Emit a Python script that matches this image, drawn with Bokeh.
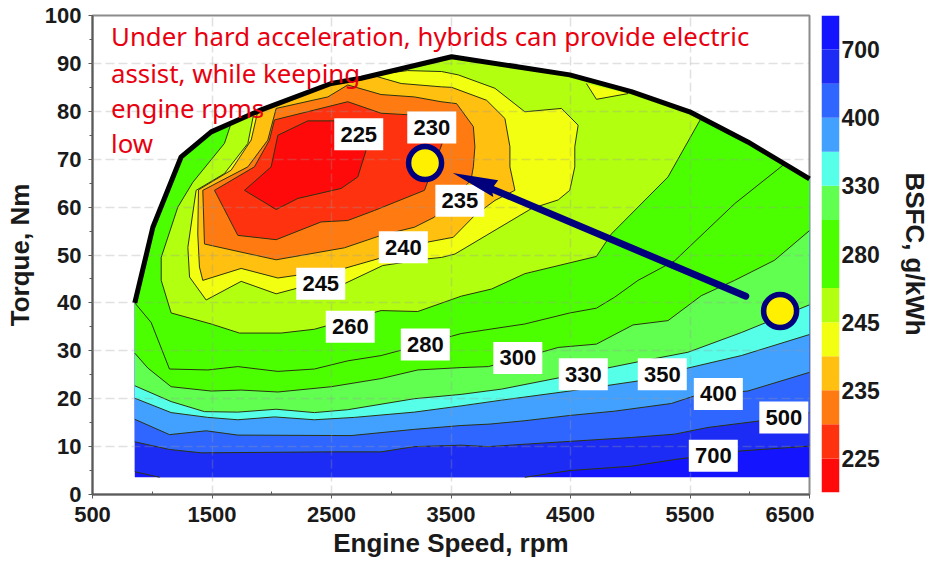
from bokeh.core.properties import value
from bokeh.embed import file_html
from bokeh.layouts import row
from bokeh.models import FixedTicker, Range1d
from bokeh.plotting import figure
from bokeh.resources import INLINE

# full load curve (thick black line)
top_rpm = [854, 1005, 1242, 1493, 1911, 2497, 2748, 3505, 4494, 5009, 5497, 5984, 6500]
top_torque = [40.0, 55.8, 70.5, 75.7, 80.3, 85.8, 86.9, 91.4, 87.6, 84.1, 79.9, 73.6, 65.9]

# contours, each one left to right
base_rpm = [854, 6500]
base_torque = [3.6, 3.6]
left_700_rpm = [854, 1061]
left_700_torque = [4.75, 3.6]
right_700_rpm = [4118, 4494, 5009, 5372, 5929, 6500]
right_700_torque = [3.6, 5.0, 5.9, 7.3, 9.1, 10.1]
rpm_500 = [854, 1144, 1409, 2497, 2915, 3194, 3585, 3812, 4118, 5009, 5372, 5650, 6096, 6500]
torque_500 = [11.0, 9.4, 8.7, 8.9, 8.9, 10.0, 10.3, 10.0, 10.5, 11.9, 12.6, 14.0, 15.4, 17.1]
rpm_400 = [854, 1144, 1451, 1716, 2664, 3194, 3585, 3826, 4118, 4494, 4870, 5344, 5539, 5984, 6500]
torque_400 = [15.7, 12.5, 13.3, 12.4, 12.3, 13.6, 14.4, 14.7, 15.4, 16.5, 17.4, 19.0, 20.6, 21.6, 25.5]
rpm_350 = [854, 1158, 1465, 1716, 2023, 2357, 2692, 3194, 3585, 3923, 4494, 5065, 5483, 5929, 6500]
torque_350 = [20.1, 17.1, 16.1, 15.6, 16.2, 15.6, 16.1, 17.2, 18.5, 19.7, 21.6, 23.7, 26.4, 29.0, 33.4]
rpm_330 = [854, 1158, 1437, 1716, 2037, 2357, 2636, 3194, 3585, 3923, 4411, 5065, 5483, 5929, 6500]
torque_330 = [22.7, 19.4, 17.3, 17.2, 17.8, 17.1, 17.7, 20.0, 20.9, 22.0, 24.4, 27.7, 29.7, 33.8, 39.6]
rpm_300 = [854, 963, 1158, 1493, 1744, 2051, 2497, 2915, 3222, 3585, 3812, 4285, 4397, 4717, 5023,
           5316, 5594, 5873, 6207, 6500]
torque_300 = [29.5, 26.4, 22.5, 21.6, 21.8, 21.4, 22.5, 24.2, 26.0, 26.5, 26.7, 29.9, 30.7, 31.4, 35.4,
              36.3, 41.5, 44.7, 48.9, 55.1]
rpm_280 = [854, 991, 1144, 1465, 1716, 2051, 2357, 2636, 2915, 3124, 3585, 4118, 4494, 4717, 4870,
           5065, 5372, 5873, 6291]
torque_280 = [40.0, 35.9, 26.2, 26.0, 26.7, 25.7, 26.2, 27.9, 29.0, 30.4, 33.6, 35.6, 37.9, 38.9, 41.2,
              44.7, 48.8, 60.7, 69.0]
rpm_260 = [1660, 1604, 1340, 1214, 1075, 1075, 1158, 1493, 1730, 2079, 2357, 2915, 3222, 3585, 3840,
           4118, 4717, 4842, 5316, 5594]
torque_260 = [77.5, 73.3, 65.2, 60.0, 49.5, 44.7, 37.9, 35.6, 33.7, 33.7, 34.5, 38.4, 38.2, 41.4, 42.9,
              46.1, 49.7, 54.4, 66.3, 78.6]
rpm_245 = [1850, 1800, 1604, 1367, 1298, 1312, 1451, 1744, 2037, 2218, 2608, 2929, 3306, 3422, 3533,
           4174, 4397, 4494, 4536, 4536, 4564, 4425, 4118, 3868, 3561, 3422, 3138, 2859]
torque_245 = [79.6, 73.3, 67.0, 63.5, 51.6, 45.4, 40.6, 44.5, 41.9, 43.1, 44.0, 47.8, 49.2, 49.5, 50.2,
              59.7, 61.5, 63.5, 68.4, 72.6, 77.1, 80.6, 79.9, 84.8, 87.6, 88.3, 88.5, 87.6]
rpm_245_patch = [4633, 4717, 4982]
torque_245_patch = [85.8, 82.5, 83.7]
rpm_240 = [1883, 1828, 1660, 1387, 1381, 1395, 1423, 1744, 2051, 2608, 2929, 3306, 3519, 3700, 3868,
           4035, 3993, 3993, 3951, 3798, 3506, 3422, 3083, 2859]
torque_240 = [80.0, 74.0, 67.7, 63.6, 54.4, 47.5, 44.7, 47.2, 45.2, 47.2, 49.5, 52.7, 53.7, 58.3, 61.4,
              63.5, 68.4, 72.6, 78.5, 82.3, 85.0, 85.1, 85.8, 87.4]
rpm_235 = [2037, 2469, 2636, 2915, 3194, 3417, 3547, 3687, 3700, 3687, 3667, 3361, 3194, 2915, 2608,
           2037, 1744, 1437, 1423, 1800, 1967, 2037]
torque_235 = [80.6, 83.0, 85.5, 83.5, 83.0, 82.0, 81.6, 76.8, 72.6, 68.4, 65.6, 57.9, 55.8, 54.1, 51.5,
              49.0, 50.6, 52.3, 63.5, 68.4, 74.0, 80.6]
rpm_230 = [1521, 1716, 2037, 2413, 2636, 2860, 3278, 3426, 3194, 2915, 2636, 2023, 1981, 1855, 1521]
torque_230 = [63.5, 54.1, 53.2, 56.9, 57.2, 59.3, 63.5, 73.3, 79.2, 79.6, 82.0, 78.2, 74.0, 68.4, 63.5]
rpm_225 = [1772, 2037, 2218, 2581, 2720, 2790, 2804, 2636, 2525, 2301, 2051, 1995, 1772]
torque_225 = [63.5, 59.5, 61.8, 63.9, 66.3, 71.9, 75.4, 77.9, 78.0, 78.0, 75.0, 68.4, 63.5]

# contour labels
label_text = ["225", "230", "235", "240", "245", "260", "280", "300", "330", "350", "400", "500", "700"]
label_rpm = [2728, 3339, 3574, 3101, 2410, 2657, 3285, 4059, 4607, 5268, 5737, 6285, 5695]
label_torque = [75.2, 76.6, 61.3, 51.6, 44.0, 35.0, 31.3, 28.5, 25.1, 25.1, 21.0, 16.1, 8.1]

# operating points and the shift between them
point_rpm = [3283, 6254]
point_torque = [69.2, 38.3]
shaft_rpm = [5967, 3840]
shaft_torque = [41.4, 63.8]
head_rpm = [3515, 3895, 3840, 3854]
head_torque = [67.1, 65.6, 63.8, 62.1]

note_lines = ["Under hard acceleration, hybrids can provide electric", "assist, while keeping",
              "engine rpms", "low"]
note_rpm = [655, 655, 655, 655]
note_torque = [95.7, 88.0, 80.7, 73.4]

# colour bar, from the lowest band up
band_colors = ["#ff0a0a", "#ff3210", "#ff7a10", "#ffc010", "#f2ff10", "#b2ff10", "#4cff00", "#4cff00",
               "#60ff50", "#55ffe8", "#42a0ff", "#2f66ff", "#1c2cf4", "#1414ff"]
band_bottom = list(range(14))
band_top = list(range(1, 15))
bar_ticks = {1: "225", 3: "235", 5: "245", 7: "280", 9: "330", 11: "400", 13: "700"}

x_ticks = [500, 1500, 2500, 3500, 4500, 5500, 6500]
x_minor = [1000, 2000, 3000, 4000, 5000, 6000]
y_ticks = [0, 10, 20, 30, 40, 50, 60, 70, 80, 90, 100]
y_minor = [5, 15, 25, 35, 45, 55, 65, 75, 85, 95]

TICK_FONT = "22px"
TITLE_FONT = "26px"
LINE_COLOR = "#2b3312"
NAVY = "#00007d"


def region(rpm, torque):
    # close a contour along the full load curve, from its right end back to its left end
    lo, hi = rpm[0], rpm[-1]
    xs = [r for r in reversed(top_rpm) if lo <= r <= hi]
    ys = [t for r, t in zip(reversed(top_rpm), reversed(top_torque)) if lo <= r <= hi]
    return list(rpm) + xs, list(torque) + ys


p = figure(width=814, height=566, output_backend="svg", toolbar_location=None,
           x_range=Range1d(500, 6500), y_range=Range1d(0, 100),
           min_border_left=92, min_border_right=5, min_border_top=15, min_border_bottom=72)
p.outline_line_color = "#8c8c8c"
p.outline_line_width = 2

# the map, painted from the highest BSFC inwards
xs, ys = region(base_rpm, base_torque)
p.patch(xs, ys, color=band_colors[13], line_color=None)

xs, ys = region(left_700_rpm + right_700_rpm, left_700_torque + right_700_torque)
p.patch(xs, ys, color=band_colors[12], line_color=None)

open_contours = [(rpm_500, torque_500, 11), (rpm_400, torque_400, 10), (rpm_350, torque_350, 9),
                 (rpm_330, torque_330, 8), (rpm_300, torque_300, 7), (rpm_280, torque_280, 6),
                 (rpm_260, torque_260, 5), (rpm_245, torque_245, 4), (rpm_240, torque_240, 3)]
for rpm, torque, band in open_contours:
    xs, ys = region(rpm, torque)
    p.patch(xs, ys, color=band_colors[band], line_color=None)
    p.line(rpm, torque, color=LINE_COLOR, line_width=1)

p.patch(rpm_245_patch, torque_245_patch, color=band_colors[4], line_color=None)
p.line(rpm_245_patch, torque_245_patch, color=LINE_COLOR, line_width=1)

for rpm, torque, band in [(rpm_235, torque_235, 2), (rpm_230, torque_230, 1), (rpm_225, torque_225, 0)]:
    p.patch(rpm, torque, color=band_colors[band], line_color=None)
    p.line(rpm, torque, color=LINE_COLOR, line_width=1)

p.line(left_700_rpm, left_700_torque, color=LINE_COLOR, line_width=1)
p.line(right_700_rpm, right_700_torque, color=LINE_COLOR, line_width=1)

# grid sits faintly on top of the colours
p.grid.level = "guide"
p.grid.grid_line_color = "#9a9a9a"
p.grid.grid_line_alpha = 0.3
p.grid.grid_line_width = 1.5
p.grid.grid_line_dash = [9, 4]

p.line(top_rpm, top_torque, color="black", line_width=5, level="annotation")

p.rect(label_rpm, label_torque, width=49, height=32, width_units="screen", height_units="screen",
       color="white", line_color=None, level="annotation")
p.text(label_rpm, label_torque, text=label_text, text_font=value("Liberation Sans"), text_font_style="bold",
       text_font_size="22px", text_align="center", text_baseline="middle", text_color="#0a0a0a",
       level="annotation")

p.line(shaft_rpm, shaft_torque, color=NAVY, line_width=7, line_cap="round", level="annotation")
p.patch(head_rpm, head_torque, color=NAVY, line_color=None, level="annotation")
p.scatter(point_rpm, point_torque, size=33, fill_color="#fff000", line_color=NAVY, line_width=5.5,
          level="annotation")

p.text(note_rpm, note_torque, text=note_lines, text_font=value("Noto Sans"), text_font_size="25.8px",
       text_color="#e8000f", text_baseline="alphabetic", level="annotation")

p.xaxis.ticker = FixedTicker(ticks=x_ticks, minor_ticks=x_minor)
p.yaxis.ticker = FixedTicker(ticks=y_ticks, minor_ticks=y_minor)
p.axis.axis_line_color = "#5a5a5a"
p.axis.axis_line_width = 2
p.axis.major_tick_line_color = "#5a5a5a"
p.axis.minor_tick_line_color = "#5a5a5a"
p.axis.major_tick_in = 0
p.axis.major_tick_out = 4
p.axis.major_label_text_font = "Liberation Sans"
p.axis.major_label_text_font_style = "bold"
p.axis.major_label_text_font_size = TICK_FONT
p.axis.major_label_text_color = "#1a1a1a"
p.xaxis.minor_tick_in = 3
p.xaxis.minor_tick_out = 0
p.yaxis.minor_tick_in = 0
p.yaxis.minor_tick_out = 3
p.xaxis.major_label_standoff = 8
p.yaxis.major_label_standoff = 7
p.xaxis.axis_label = "Engine Speed, rpm"
p.yaxis.axis_label = "Torque, Nm"
p.axis.axis_label_text_font = "Liberation Sans"
p.axis.axis_label_text_font_style = "bold"
p.axis.axis_label_text_font_size = TITLE_FONT
p.axis.axis_label_text_color = "#1a1a1a"
p.xaxis.axis_label_standoff = 3
p.yaxis.axis_label_standoff = 7

# colour bar; the row lines its bottom border up with the map's, so only the height moves it
bar = figure(width=118, height=564, output_backend="svg", toolbar_location=None,
             x_range=Range1d(0, 1), y_range=Range1d(0, 14),
             x_axis_location=None, y_axis_location="right",
             min_border_left=7, min_border_right=92, min_border_top=15, min_border_bottom=64)
bar.quad(left=0, right=1, bottom=band_bottom, top=band_top, color=band_colors, line_color=None)
bar.outline_line_color = None
bar.grid.visible = False
bar.yaxis.ticker = FixedTicker(ticks=list(bar_ticks))
bar.yaxis.major_label_overrides = bar_ticks
bar.yaxis.axis_line_color = None
bar.yaxis.major_tick_line_color = None
bar.yaxis.minor_tick_line_color = None
bar.yaxis.major_tick_out = 0
bar.yaxis.major_label_standoff = 2
bar.yaxis.major_label_text_font = "Liberation Sans"
bar.yaxis.major_label_text_font_style = "bold"
bar.yaxis.major_label_text_font_size = "23px"
bar.yaxis.major_label_text_color = "#1a1a1a"
bar.yaxis.axis_label = "BSFC, g/kWh"
bar.yaxis.axis_label_text_font = "Liberation Sans"
bar.yaxis.axis_label_text_font_style = "bold"
bar.yaxis.axis_label_text_font_size = TITLE_FONT
bar.yaxis.axis_label_text_color = "#1a1a1a"
bar.yaxis.axis_label_standoff = 17

layout = row(p, bar)
open("out.html", "w").write(file_html(layout, INLINE))
